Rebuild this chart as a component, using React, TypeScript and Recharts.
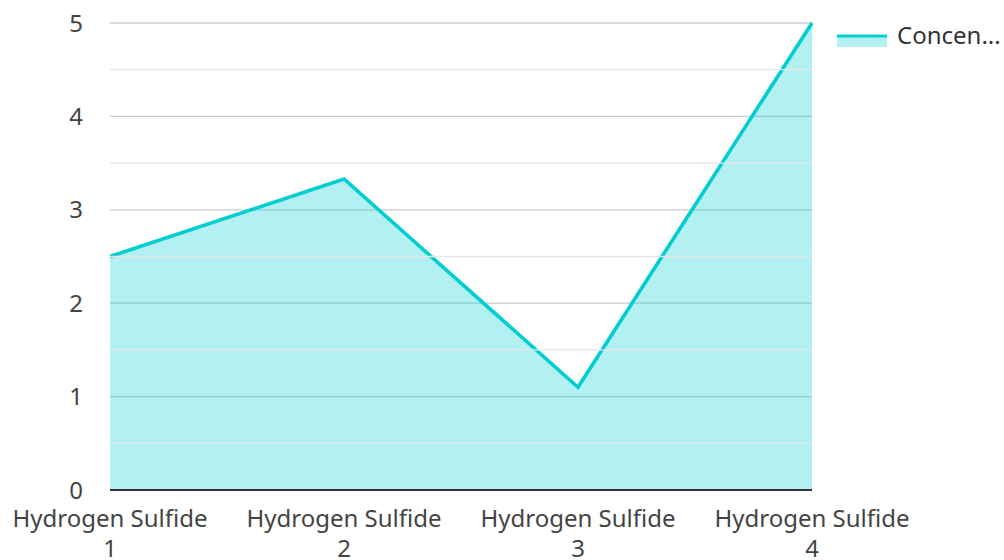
import React from 'react';
import { AreaChart, Area, XAxis, YAxis, CartesianGrid, ReferenceLine, Legend } from 'recharts';

const categories = ['Hydrogen Sulfide 1', 'Hydrogen Sulfide 2', 'Hydrogen Sulfide 3', 'Hydrogen Sulfide 4'];
const concentration = [2.5, 3.33, 1.1, 5];
const yTicks = [0, 1, 2, 3, 4, 5];
const minorTicks = [0.5, 1.5, 2.5, 3.5, 4.5];
const seriesName = 'Concentration';

const data = categories.map((name, i) => ({ name, value: concentration[i] }));

const LINE = '#00CED1';
const FONT = '"Noto Sans", "Open Sans", sans-serif';

const XTick = (props: any) => {
  const { x, y, payload } = props;
  const text: string = payload.value;
  const idx = text.lastIndexOf(' ');
  return (
    <text x={x} y={y} textAnchor="middle" fill="#444" fontSize={24} fontFamily={FONT}>
      <tspan x={x} dy={29}>{text.slice(0, idx)}</tspan>
      <tspan x={x} dy={30}>{text.slice(idx + 1)}</tspan>
    </text>
  );
};

const LegendContent = () => (
  <div style={{ display: 'flex', alignItems: 'flex-start', fontFamily: FONT, fontSize: 24, color: '#333', height: 30, lineHeight: '30px' }}>
    <svg width={50} height={30} style={{ marginRight: 10, flexShrink: 0 }}>
      <rect x={0} y={16} width={50} height={11} fill={LINE} fillOpacity={0.3} />
      <line x1={0} x2={50} y1={16} y2={16} stroke={LINE} strokeWidth={3} />
    </svg>
    <span style={{ whiteSpace: 'nowrap' }}>{seriesName.slice(0, 6)}...</span>
  </div>
);

export default function App() {
  return (
    <div style={{ position: 'absolute', left: 0, top: 0, width: 1004, height: 560, background: '#fff' }}>
      <AreaChart width={1004} height={560} data={data} margin={{ top: 23, right: 25, left: 0, bottom: 0 }}>
        <CartesianGrid vertical={false} stroke="#cccccc" strokeWidth={1.3} />
        {minorTicks.map((t) => (
          <ReferenceLine key={t} y={t} stroke="#e6e6e6" strokeWidth={1.3} />
        ))}
        <XAxis
          dataKey="name"
          height={70}
          tick={<XTick />}
          tickLine={false}
          axisLine={{ stroke: '#333', strokeWidth: 2 }}
          interval={0}
        />
        <YAxis
          width={110}
          domain={[0, 5]}
          ticks={yTicks}
          axisLine={false}
          tickLine={false}
          tickMargin={21}
          tick={{ fill: '#444', fontSize: 24, fontFamily: FONT }}
        />
        <Area
          type="linear"
          dataKey="value"
          name={seriesName}
          stroke={LINE}
          strokeWidth={3.6}
          fill={LINE}
          fillOpacity={0.3}
          isAnimationActive={false}
        />
        <Legend
          layout="vertical"
          align="right"
          verticalAlign="top"
          width={167}
          content={<LegendContent />}
          wrapperStyle={{ top: 20, right: 0, left: 'auto', width: 167, height: 30 }}
        />
      </AreaChart>
    </div>
  );
}
